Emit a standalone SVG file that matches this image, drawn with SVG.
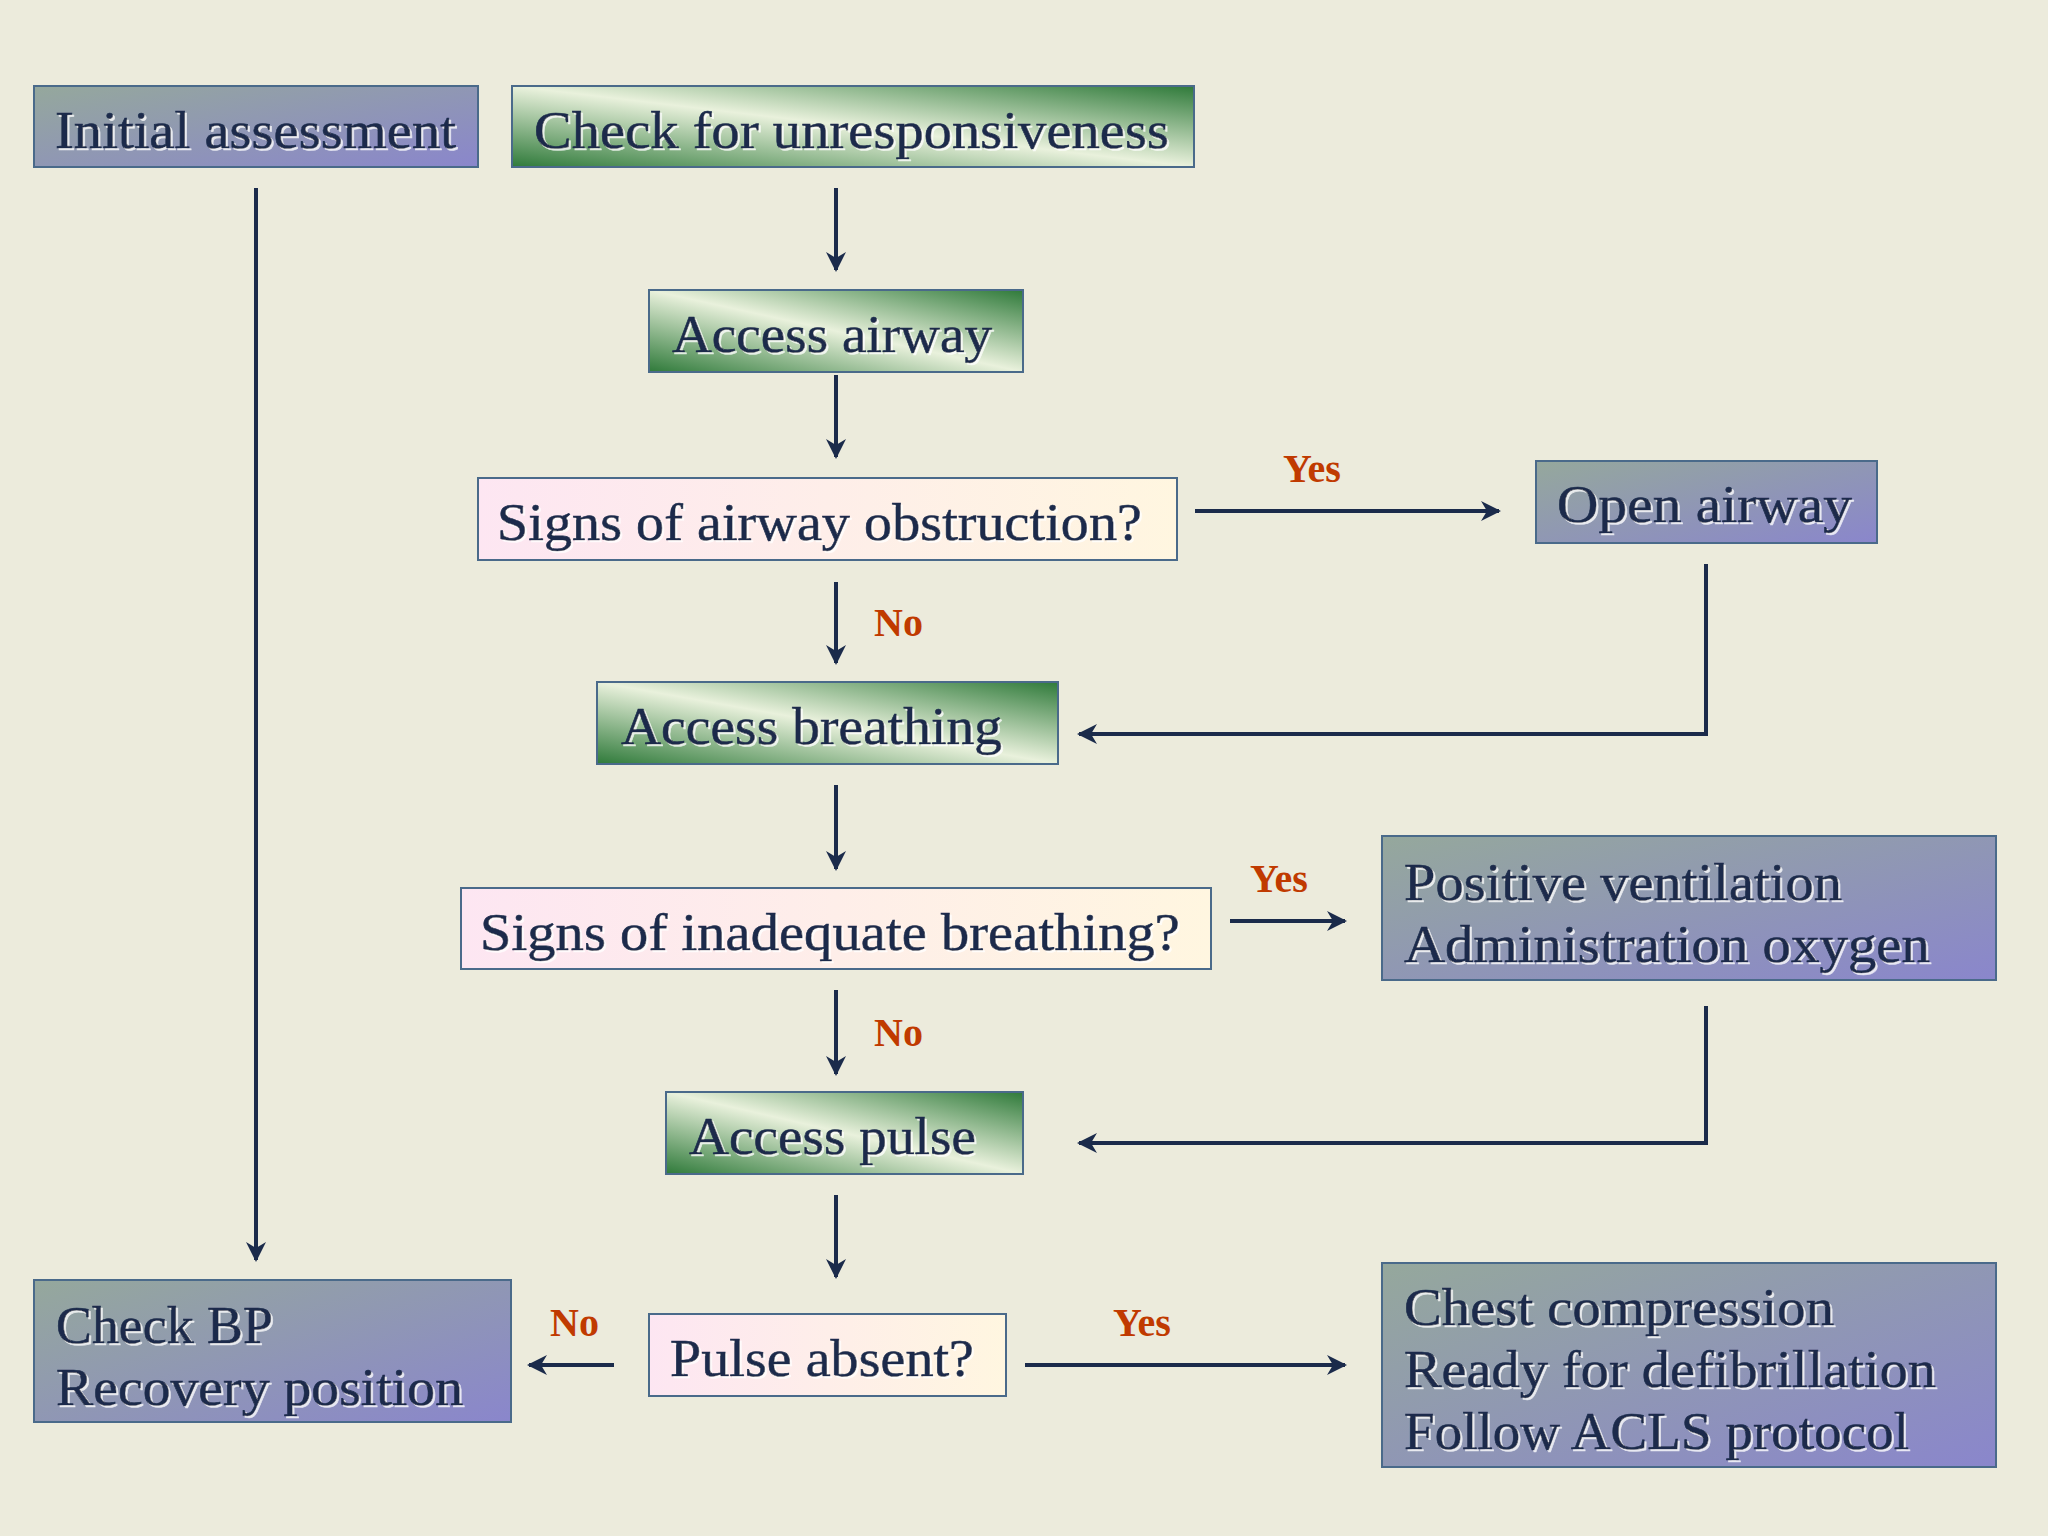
<svg xmlns="http://www.w3.org/2000/svg" width="2048" height="1536" viewBox="0 0 2048 1536">
<defs>
<linearGradient id="gBlue" x1="0" y1="0" x2="1" y2="1"><stop offset="0" stop-color="#95a89c"/><stop offset="1" stop-color="#8a86cc"/></linearGradient>
<linearGradient id="gGreen" x1="0" y1="1" x2="1" y2="0"><stop offset="0" stop-color="#2f7a3a"/><stop offset="0.5" stop-color="#e9f1dc"/><stop offset="1" stop-color="#2f7a3a"/></linearGradient>
<linearGradient id="gPink" x1="0" y1="0" x2="1" y2="0"><stop offset="0" stop-color="#fde6f2"/><stop offset="1" stop-color="#fff6e0"/></linearGradient>
<marker id="ah" viewBox="0 0 10 10" refX="9" refY="5" markerWidth="5" markerHeight="5" orient="auto"><path d="M0,0 L10,5 L0,10 L3,5 z" fill="#1b2b4b"/></marker>
<filter id="sh"><feDropShadow dx="2" dy="2" stdDeviation="0.5" flood-color="#ffffff" flood-opacity="0.8"/></filter>
</defs>
<style>
.box{stroke:#4a6a8a;stroke-width:2}
.blue{fill:url(#gBlue)}.green{fill:url(#gGreen)}.pink{fill:url(#gPink)}
.t{font-family:"Liberation Serif",serif;font-size:53px;fill:#1b2b4b;stroke:#1b2b4b;stroke-width:0.6;filter:url(#sh)}
.lbl{font-family:"Liberation Serif",serif;font-size:40px;font-weight:bold;fill:#c03a00}
.c{stroke:#1b2b4b;stroke-width:4;fill:none;marker-end:url(#ah)}
</style>
<rect width="2048" height="1536" fill="#ecebdc"/>
<g id="n1"><rect class="box blue" x="34" y="86" width="444" height="81"/><text class="t" x="55" y="148" textLength="401" lengthAdjust="spacingAndGlyphs">Initial assessment</text></g>
<g id="n2"><rect class="box green" x="512" y="86" width="682" height="81"/><text class="t" x="534" y="148" textLength="635" lengthAdjust="spacingAndGlyphs">Check for unresponsiveness</text></g>
<g id="n3"><rect class="box green" x="649" y="290" width="374" height="82"/><text class="t" x="672" y="352" textLength="320" lengthAdjust="spacingAndGlyphs">Access airway</text></g>
<g id="n4"><rect class="box pink" x="478" y="478" width="699" height="82"/><text class="t" x="497" y="540" textLength="645" lengthAdjust="spacingAndGlyphs">Signs of airway obstruction?</text></g>
<g id="n5"><rect class="box blue" x="1536" y="461" width="341" height="82"/><text class="t" x="1557" y="522" textLength="295" lengthAdjust="spacingAndGlyphs">Open airway</text></g>
<g id="n6"><rect class="box green" x="597" y="682" width="461" height="82"/><text class="t" x="621" y="744" textLength="381" lengthAdjust="spacingAndGlyphs">Access breathing</text></g>
<g id="n7"><rect class="box pink" x="461" y="888" width="750" height="81"/><text class="t" x="480" y="950" textLength="700" lengthAdjust="spacingAndGlyphs">Signs of inadequate breathing?</text></g>
<g id="n8"><rect class="box blue" x="1382" y="836" width="614" height="144"/><text class="t" x="1404" y="900" textLength="438" lengthAdjust="spacingAndGlyphs">Positive ventilation</text><text class="t" x="1404" y="962" textLength="526" lengthAdjust="spacingAndGlyphs">Administration oxygen</text></g>
<g id="n9"><rect class="box green" x="666" y="1092" width="357" height="82"/><text class="t" x="689" y="1154" textLength="287" lengthAdjust="spacingAndGlyphs">Access pulse</text></g>
<g id="n10"><rect class="box pink" x="649" y="1314" width="357" height="82"/><text class="t" x="670" y="1376" textLength="304" lengthAdjust="spacingAndGlyphs">Pulse absent?</text></g>
<g id="n11"><rect class="box blue" x="34" y="1280" width="477" height="142"/><text class="t" x="56" y="1343" textLength="217" lengthAdjust="spacingAndGlyphs">Check BP</text><text class="t" x="56" y="1405" textLength="407" lengthAdjust="spacingAndGlyphs">Recovery position</text></g>
<g id="n12"><rect class="box blue" x="1382" y="1263" width="614" height="204"/><text class="t" x="1404" y="1325" textLength="430" lengthAdjust="spacingAndGlyphs">Chest compression</text><text class="t" x="1404" y="1387" textLength="532" lengthAdjust="spacingAndGlyphs">Ready for defibrillation</text><text class="t" x="1404" y="1449" textLength="505" lengthAdjust="spacingAndGlyphs">Follow ACLS protocol</text></g>
<g id="connectors">
<path class="c" d="M836,188 V270"/>
<path class="c" d="M836,375 V457"/>
<path class="c" d="M836,582 V663"/>
<path class="c" d="M836,785 V869"/>
<path class="c" d="M836,990 V1074"/>
<path class="c" d="M836,1195 V1277"/>
<path class="c" d="M256,188 V1260"/>
<path class="c" d="M1195,511 H1499"/>
<path class="c" d="M1706,564 V734 H1079"/>
<path class="c" d="M1230,921 H1345"/>
<path class="c" d="M1706,1006 V1143 H1079"/>
<path class="c" d="M614,1365 H529"/>
<path class="c" d="M1025,1365 H1345"/>
<text class="lbl" x="1283" y="482">Yes</text>
<text class="lbl" x="874" y="636">No</text>
<text class="lbl" x="1250" y="892">Yes</text>
<text class="lbl" x="874" y="1046">No</text>
<text class="lbl" x="550" y="1336">No</text>
<text class="lbl" x="1113" y="1336">Yes</text>
</g>
</svg>
